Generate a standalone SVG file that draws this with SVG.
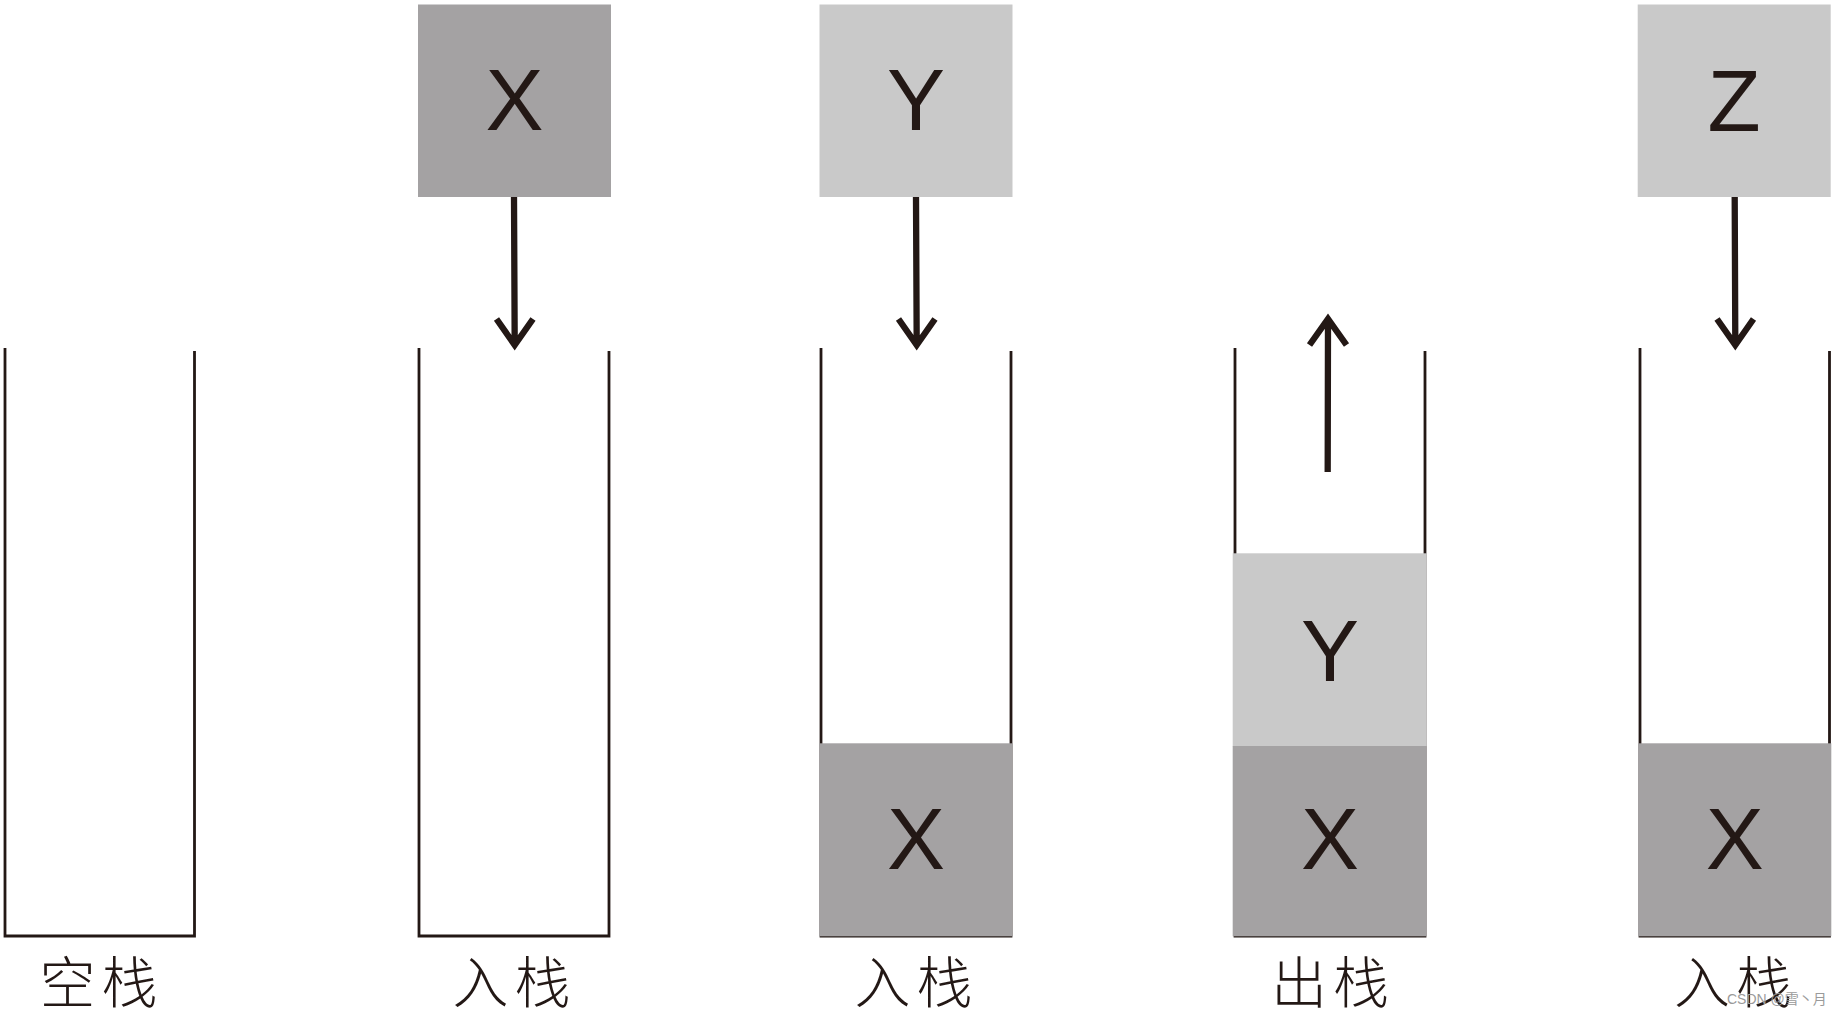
<svg xmlns="http://www.w3.org/2000/svg" width="1836" height="1014" viewBox="0 0 1836 1014">
<style>
.wall{fill:none;stroke:#231815;stroke-width:2.8;stroke-linecap:butt}
.dark{fill:#a4a2a3}
.light{fill:#c9c9c9}
.let{font-family:"Liberation Sans",Arial,sans-serif;font-size:87px;fill:#231815;text-anchor:middle}
.lbl{font-family:"Noto Sans CJK SC",sans-serif;font-weight:300;font-size:56px;fill:#231815;text-anchor:middle;letter-spacing:6px}
.arr{fill:none;stroke:#231815;stroke-width:6.3;stroke-linejoin:miter;stroke-miterlimit:10}
.wm{font-family:"Liberation Sans","Noto Sans CJK SC",sans-serif;font-size:14px;fill:#9a9a9a}
</style>
<rect width="1836" height="1014" fill="#ffffff"/>

<g id="stack1">
<path class="wall" d="M5,348 V936 H194.5 V351"/>
<text class="lbl" x="101.5" y="1003">空栈</text>
</g>

<g id="stack2">
<path class="wall" d="M419,348 V936 H609 V351"/>
<text class="lbl" x="514.5" y="1003">入栈</text>
</g>
<g id="box-x-push1">
<rect class="dark" x="418" y="4.5" width="193" height="192.5"/>
<text class="let" x="514.5" y="130">X</text>
</g>

<g id="stack3">
<path class="wall" d="M821,348 V936 H1011 V351"/>
<text class="lbl" x="916.5" y="1003">入栈</text>
</g>
<g id="box-y-push2">
<rect class="light" x="819.5" y="4.5" width="193" height="192.5"/>
<text class="let" x="916" y="130">Y</text>
</g>
<g id="box-x-stack3">
<rect class="dark" x="819.3" y="743.3" width="193" height="193"/>
<text class="let" x="916" y="869">X</text>
</g>

<g id="stack4">
<path class="wall" d="M1235,348 V936 H1425 V351"/>
<text class="lbl" x="1333" y="1003">出栈</text>
</g>
<g id="box-y-stack4">
<rect class="light" x="1232.7" y="553.3" width="194" height="193"/>
<text class="let" x="1330" y="681">Y</text>
</g>
<g id="box-x-stack4">
<rect class="dark" x="1232.7" y="746" width="194" height="190.3"/>
<text class="let" x="1330" y="869">X</text>
</g>

<g id="stack5">
<path class="wall" d="M1640,348 V936 H1829.5 V351"/>
<text class="lbl" x="1736" y="1003">入栈</text>
</g>
<g id="box-z-push3">
<rect class="light" x="1637.7" y="4.5" width="193" height="192.5"/>
<text class="let" x="1734" y="131">Z</text>
</g>
<g id="box-x-stack5">
<rect class="dark" x="1638.3" y="743.3" width="193" height="193"/>
<text class="let" x="1734.7" y="869">X</text>
</g>

<g id="connectors">
<path class="arr" d="M514,197 L514.7,344 M496.5,319 L514.7,345 L533,319"/>
<path class="arr" d="M916,197 L916.7,344 M898.5,319 L916.7,345 L935,319"/>
<path class="arr" d="M1734.7,197 L1735.3,344 M1717,319 L1735.3,345 L1753.5,319"/>
<path class="arr" d="M1327.7,472 L1328,320 M1309.5,345 L1328,319 L1346.5,345"/>
</g>

<text class="wm" x="1727" y="1004">CSDN @雪丶月</text>
</svg>
